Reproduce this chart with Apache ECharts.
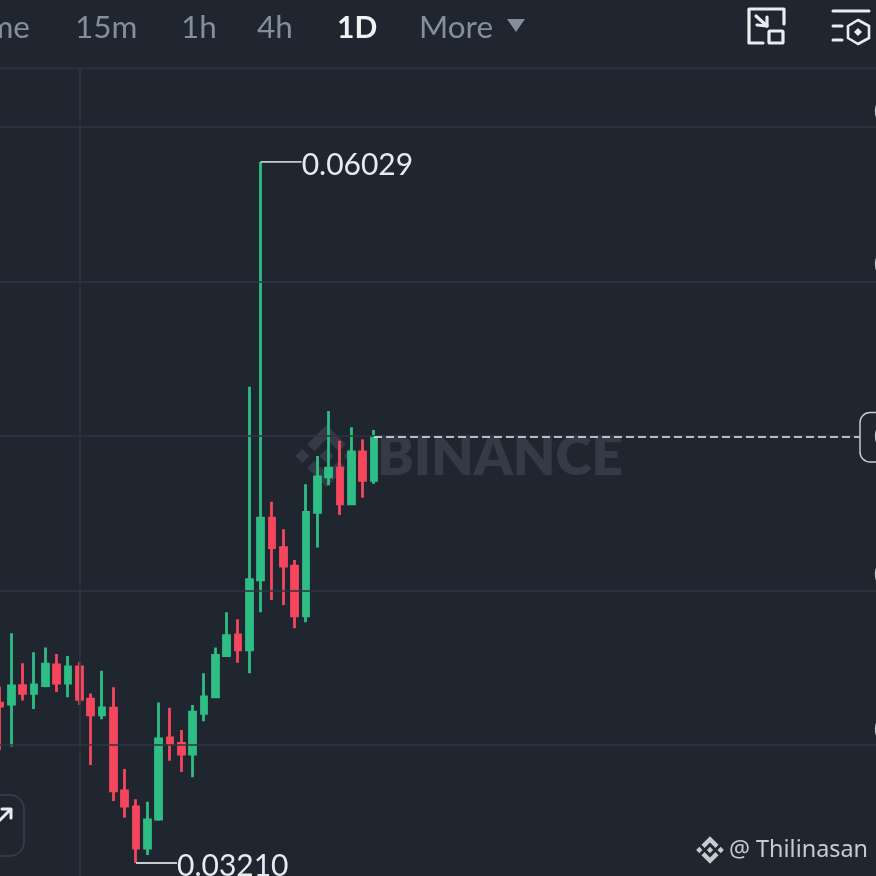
<!DOCTYPE html>
<html>
<head>
<meta charset="utf-8">
<style>html,body{margin:0;padding:0;background:#1f2630;overflow:hidden}#c{width:876px;height:876px}</style>
<script src="https://cdn.jsdelivr.net/npm/echarts@6/dist/echarts.min.js"></script>
</head>
<body>
<div id="c"></div>
<script>
// Candle values (left to right)
const opens  = [.03853,.03849,.03923,.03892,.03923,.04007,.03933,.03999,.03869,.03806,.03833,.035,.03436,.0327,.03386,.03713,.03691,.03648,.03812,.03878,.04044,.04127,.04067,.04349,.04597,.04478,.04404,.04204,.0462,.04763,.04798,.04654,.04863,.04749];
const closes = [.03841,.03922,.03892,.03926,.0401,.03933,.03999,.03868,.03806,.03834,.035,.03439,.0327,.03383,.03709,.03691,.03648,.03817,.03878,.04045,.04124,.04067,.04349,.04597,.04478,.04404,.04204,.0462,.04763,.04798,.04654,.04863,.04749,.04922];
const lows   = [.03664,.03678,.03863,.03829,.03917,.03898,.03876,.03845,.03604,.03788,.03459,.03392,.0321,.03242,.0338,.03621,.03576,.03555,.0378,.03875,.0404,.04015,.03973,.04218,.04268,.04247,.04154,.04178,.04479,.04729,.04609,.04654,.04679,.04735];
const highs  = [.03919,.04134,.04013,.04057,.04077,.0405,.04042,.04018,.03892,.03983,.03917,.03588,.03466,.03456,.03855,.03834,.03745,.03845,.03973,.04077,.04218,.0419,.05125,.06029,.04663,.04552,.04428,.04733,.04847,.05027,.04908,.04962,.04914,.04951];
const gridPrices = [.06169,.05546,.04927,.04304,.03684];
const highPrice = .06029, lowPrice = .0321, lastPrice = .04922;
const axisMin = .031577, axisMax = .064027;
const slotCount = 78;
const categories = Array.from({length: slotCount}, (_, i) => String(i));
const intervals = ['me','15m','1h','4h','1D','More'];
const intervalX = [30,75,181,257,337,419];
const priceStubY = [112,265,437,575,730];

const GREEN='#2ebd85', RED='#f6465d', BG='#1f2630', GRID='#2f3540', MUTED='#848e9c', LIGHT='#eaecef', SOFT='#c8cacd';
const LOGO_PARTS=[
  [[9.8,13.6],[16,7.4],[22.2,13.6],[25.8,10],[16,.2],[6.2,10]],
  [[.2,16],[3.8,12.4],[7.4,16],[3.8,19.6]],
  [[9.8,18.4],[16,24.6],[22.2,18.4],[25.8,22],[16,31.8],[6.2,22]],
  [[24.6,16],[28.2,12.4],[31.8,16],[28.2,19.6]],
  [[19.6,16],[16,12.4],[12.4,16],[16,19.6]]
];
function logo(x,y,size,fill,z){
  const k=size/32;
  return LOGO_PARTS.map(p=>({type:'polygon',z,silent:true,shape:{points:p.map(q=>[x+q[0]*k,y+q[1]*k])},style:{fill}}));
}
const candles = opens.map((o,i)=>[o,closes[i],lows[i],highs[i]]);

function text(t,x,y,font,fill,align,z){return {type:'text',z:z===undefined?20:z,silent:true,style:{text:t,x,y,font,fill,textAlign:align||'left',textVerticalAlign:'middle'}};}
function poly(points,color,w,z){return {type:'polyline',z:z||20,silent:true,shape:{points},style:{stroke:color,lineWidth:w,fill:null,lineCap:'round',lineJoin:'round'}};}

const chart = echarts.init(document.getElementById('c'),null,{renderer:'canvas',width:876,height:876});
const gfx = [
  // watermark
  ...logo(295,424.5,63,'#343b46',0),
  text('BINANCE',377,457,'800 55px Lato','#343b46','left',0),
  // header
  {type:'rect',z:5,silent:true,shape:{x:0,y:67,width:876,height:2.5},style:{fill:'#2a303b'}},
  // footer signature
  ...logo(696,836,28,SOFT,20),
  text('@ Thilinasan',729,850,'23.4px "Noto Sans"',SOFT),
  // price box
  {type:'rect',z:18,silent:true,shape:{x:860,y:412.5,width:30,height:49.5,r:10},style:{fill:BG,stroke:SOFT,lineWidth:1.5}},
  // chart jump button
  {type:'rect',z:18,silent:true,shape:{x:-30,y:795,width:54,height:61,r:14},style:{fill:BG,stroke:'#343a45',lineWidth:2}},
  poly([[-2,822],[10,810]],LIGHT,3),
  poly([[2,809],[11,809],[11,818]],LIGHT,3),
  // top-right icons
  poly([[784,24],[784,9],[749,9],[749,43],[763,43]],LIGHT,3.2),
  {type:'rect',z:20,silent:true,shape:{x:769,y:31,width:14,height:12,r:1},style:{fill:null,stroke:LIGHT,lineWidth:3.2}},
  poly([[756,16],[767,26]],LIGHT,3.2),
  poly([[757,25],[767,26],[767,17]],LIGHT,3.2),
  poly([[833,11],[869,11]],LIGHT,3),
  poly([[833,26],[842,26]],LIGHT,3),
  poly([[833,40],[842,40]],LIGHT,3),
  {type:'polygon',z:20,silent:true,shape:{points:[[858,20],[869,26],[869,38],[858,44],[848,38],[848,26]]},style:{fill:null,stroke:LIGHT,lineWidth:2.6,lineJoin:'round'}},
  {type:'polygon',z:20,silent:true,shape:{points:[[858,28],[862,32],[858,36],[854,32]]},style:{fill:LIGHT}},
  // "More" caret
  {type:'polygon',z:20,silent:true,shape:{points:[[507,19],[525,19],[516,32]]},style:{fill:MUTED}}
];
intervals.forEach((s,i)=>{
  const active = s==='1D';
  gfx.push(text(s,intervalX[i],28,(active?'700 30px':'400 31.5px')+' Lato',active?'#f0f1f3':MUTED,s==='me'?'right':'left'));
});
priceStubY.forEach(y=>gfx.push(text('0.05',874,y,'30px Lato',SOFT)));

chart.setOption({
  animation:false,
  backgroundColor:BG,
  graphic:gfx,
  grid:{left:-5.667,width:884,top:69,height:807,outerBoundsMode:'none'},
  xAxis:{type:'category',data:categories,boundaryGap:true,show:false},
  yAxis:{type:'value',min:axisMin,max:axisMax,show:false,scale:true},
  series:[
    {
      type:'line',data:[],z:1,silent:true,
      markLine:{
        silent:true,symbol:'none',label:{show:false},animation:false,precision:5,
        data:[
          ...gridPrices.map(v=>({yAxis:v,lineStyle:{color:GRID,width:1.6,type:'solid'}})),
          {xAxis:categories[7],lineStyle:{color:GRID,width:1.6,type:'solid'}},
          [{coord:[categories[33],lastPrice],lineStyle:{color:LIGHT,width:1.6,type:[8,4]}},{coord:[categories[76],lastPrice]}]
        ]
      }
    },
    {
      type:'candlestick',z:3,silent:true,data:candles,barWidth:6,
      itemStyle:{color:GREEN,color0:RED,borderColor:GREEN,borderColor0:RED,borderWidth:2.8},
      markPoint:{
        silent:true,animation:false,
        data:[
          {coord:[categories[23],highPrice],value:highPrice.toFixed(5),symbol:'rect',symbolSize:[41,1.8],symbolOffset:[20.5,0],
           itemStyle:{color:SOFT},label:{show:true,position:'right',distance:0,offset:[0,3],color:'#e8eaed',fontSize:30,fontFamily:'Lato',formatter:'{c}'}},
          {coord:[categories[12],lowPrice],value:lowPrice.toFixed(5),symbol:'rect',symbolSize:[41,1.8],symbolOffset:[20.5,0],
           itemStyle:{color:SOFT},label:{show:true,position:'right',distance:0,offset:[0,3],color:'#e8eaed',fontSize:30,fontFamily:'Lato',formatter:'{c}'}}
        ]
      }
    }
  ]
});
</script>
</body>
</html>
